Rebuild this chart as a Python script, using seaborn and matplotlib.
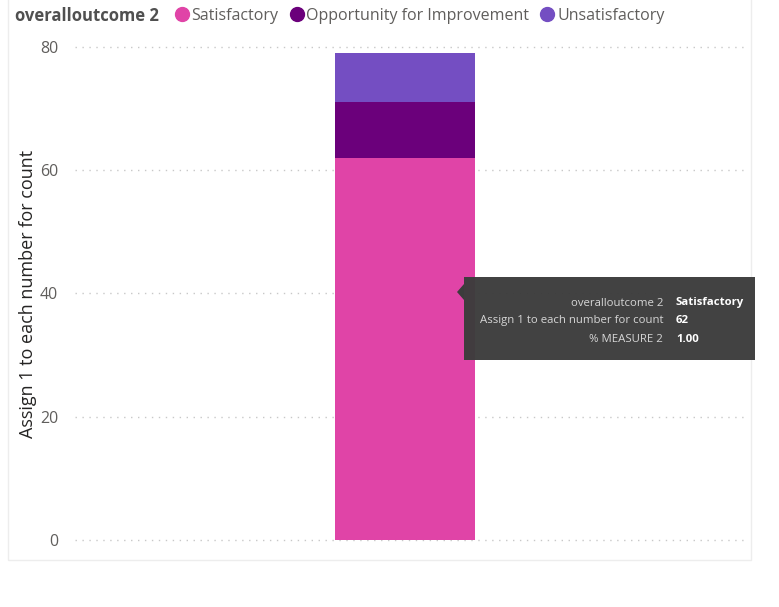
import matplotlib
matplotlib.use("Agg")
import matplotlib.pyplot as plt
import seaborn as sns
import pandas as pd
from matplotlib.patches import Rectangle, Polygon
from matplotlib.lines import Line2D

## Data

categories = ["Satisfactory", "Opportunity for Improvement", "Unsatisfactory"]
counts = [62, 9, 8]
colors = ["#E044A7", "#6B007B", "#744EC2"]
y_ticks = [0, 20, 40, 60, 80]

legend_title = "overalloutcome 2"
y_label = "Assign 1 to each number for count"
tooltip_labels = ["overalloutcome 2", "Assign 1 to each number for count", "% MEASURE 2"]
tooltip_values = ["Satisfactory", "62", "1.00"]

## Figure setup

sns.set_style("white")
plt.rcParams["font.family"] = ["Open Sans", "DejaVu Sans"]

W, H = 779, 607
fig = plt.figure(figsize=(W / 100, H / 100), dpi=100)

def px(x, y):
    # pixel (top-left origin) -> figure fraction
    return x / W, 1 - y / H

# axes box in pixels
ax_l, ax_r, ax_t, ax_b = 75, 748, 40, 548
ax = fig.add_axes([ax_l / W, 1 - ax_b / H, (ax_r - ax_l) / W, (ax_b - ax_t) / H])

## Stacked bar: draw cumulative totals from the top down

df = pd.DataFrame({"outcome": categories, "count": counts})
df["cum"] = df["count"].cumsum()

for i in reversed(range(len(df))):
    sns.barplot(
        x=[0],
        y=[df["cum"].iloc[i]],
        color=colors[i],
        width=0.8,
        saturation=1,
        native_scale=True,
        linewidth=0,
        ax=ax,
    )

ax.set_xlim(-1.886, 1.96)
ax.set_ylim(-1.3, 81.1)
ax.set_yticks(y_ticks)
ax.set_yticklabels([str(t) for t in y_ticks], color="#605E5C", fontsize=11.5)
ax.set_xticks([])
ax.set_xlabel("")
ax.set_ylabel(y_label, fontsize=13, color="#252423")
ax.yaxis.set_label_coords(37 / W, 1 - 294 / H, transform=fig.transFigure)
ax.tick_params(axis="y", length=0, pad=12)
ax.grid(axis="y", linestyle=(0, (1, 4)), color="#C8C8C8", linewidth=1)
ax.set_axisbelow(True)
for s in ax.spines.values():
    s.set_visible(False)

## Outer visual frame

x0, y0 = px(8, 560)
x1, y1 = px(751, -5)
fig.patches.append(Rectangle((x0, y0), x1 - x0, y1 - y0, transform=fig.transFigure,
                             fill=False, edgecolor="#EDEDED", linewidth=1))

## Legend

tx, ty = px(15, 16)
fig.text(tx, ty, legend_title, fontsize=12, fontweight="bold", color="#505050",
         ha="left", va="center")
handles = [Line2D([], [], marker="o", linestyle="", markersize=10,
                  markerfacecolor=c, markeredgecolor=c) for c in colors]
lx, ly = px(164, 16)
fig.legend(handles, categories, loc="center left", bbox_to_anchor=(lx, ly), ncol=3,
           frameon=False, fontsize=11.5, handletextpad=0.0, columnspacing=0.55,
           handlelength=1.2, borderpad=0, labelcolor="#605E5C")

## Tooltip

bx0, by0 = px(464, 360)
bx1, by1 = px(755, 277)
fig.patches.append(Rectangle((bx0, by0), bx1 - bx0, by1 - by0, transform=fig.transFigure,
                             facecolor="#3C3C3C", edgecolor="none", alpha=0.97, zorder=5))
tri = [px(464, 284), px(457, 292), px(464, 300)]
fig.patches.append(Polygon(tri, closed=True, transform=fig.transFigure,
                           facecolor="#3C3C3C", edgecolor="none", zorder=5))
for k, (lab, val) in enumerate(zip(tooltip_labels, tooltip_values)):
    yy = 303 + k * 18
    fig.text(*px(663, yy), lab, fontsize=8.2, color="#D6D6D6", ha="right", va="center", zorder=6)
    fig.text(*px(676, yy), val, fontsize=8.2, color="white", fontweight="bold",
             ha="left", va="center", zorder=6)

fig.savefig("out.png", dpi=100)
